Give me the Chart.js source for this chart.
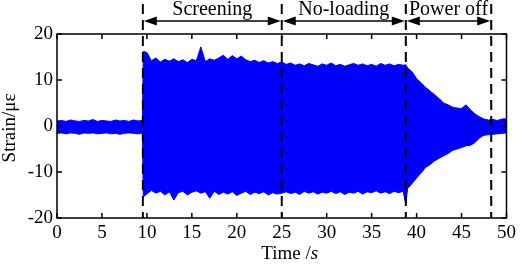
<!DOCTYPE html>
<html>
<head>
<meta charset="utf-8">
<script src="https://cdn.jsdelivr.net/npm/chart.js@4"></script>
<style>
html, body { margin: 0; padding: 0; background: #fff; }
#wrap { width: 520px; height: 264px; position: relative; }
</style>
</head>
<body>
<div id="wrap"><canvas id="myChart" width="520" height="264"></canvas></div>
<script>
// envelope of the strain signal
const time = [
  0, 0.5, 1, 1.5, 2, 2.5, 3, 3.5, 4, 4.5, 5, 5.5, 6, 6.5, 7, 7.5, 8, 8.5, 9, 9.5,
  9.6, 10, 10.5, 11, 11.5, 12, 12.5, 13, 13.5, 14, 14.5, 15, 15.5, 16, 16.5, 17, 17.5, 18, 18.5, 19, 19.5,
  20, 20.5, 21, 21.5, 22, 22.5, 23, 23.5, 24, 24.5, 25, 25.5, 26, 26.5, 27, 27.5, 28, 28.5, 29, 29.5,
  30, 30.5, 31, 31.5, 32, 32.5, 33, 33.5, 34, 34.5, 35, 35.5, 36, 36.5, 37, 37.5, 38, 38.5, 38.8,
  39, 39.5, 40, 40.5, 41, 41.5, 42, 42.5, 43, 43.5, 44, 44.5, 45, 45.5, 46, 46.5, 47, 47.5,
  48, 48.5, 49, 49.5, 50
];
const upper = [
  1.1, 1.2, 1.0, 1.3, 1.1, 1.0, 1.2, 1.1, 1.4, 1.0, 1.2, 1.1, 1.0, 1.3, 1.1, 1.2, 1.0, 1.3, 1.1, 1.2,
  16.2, 16.0, 14.2, 14.8, 13.9, 14.5, 14.1, 14.6, 14.0, 14.4, 13.8, 14.5, 14.2, 17.2, 14.0, 14.6, 14.3, 14.8, 15.4, 14.5, 15.3,
  14.6, 15.2, 14.4, 14.0, 14.3, 13.8, 14.2, 13.7, 14.0, 13.6, 13.9, 13.4, 13.7, 13.2, 13.5, 13.1, 13.6, 13.3, 13.0, 13.5,
  13.2, 13.7, 13.1, 13.4, 13.0, 13.3, 13.6, 13.2, 13.5, 13.1, 13.4, 13.0, 13.6, 13.2, 13.5, 13.1, 13.4, 13.2, 13.3,
  12.6, 11.8, 10.3, 9.4, 8.4, 7.6, 6.8, 6.0, 5.0, 4.6, 4.1, 3.9, 3.8, 4.6, 3.5, 2.6, 2.0, 1.5,
  1.3, 1.4, 1.2, 1.5, 1.6
];
const lower = [
  -1.6, -1.5, -1.7, -1.5, -1.6, -1.8, -1.5, -1.6, -1.5, -1.7, -1.6, -1.5, -1.7, -1.6, -1.8, -1.6, -1.5, -1.6, -1.7, -1.6,
  -15.4, -14.8, -14.0, -14.6, -14.2, -15.0, -14.3, -16.1, -14.5, -14.2, -15.0, -14.4, -14.1, -14.6, -14.3, -15.7, -14.2, -14.9, -14.4, -14.8, -14.3,
  -15.1, -14.6, -14.2, -14.9, -14.4, -14.7, -14.3, -15.0, -14.5, -14.8, -14.6, -14.3, -14.7, -14.4, -14.9, -14.2, -14.6, -14.3, -14.8, -14.4,
  -14.6, -14.2, -14.7, -14.3, -14.9, -14.4, -14.6, -14.2, -14.8, -14.3, -14.5, -14.1, -14.6, -14.3, -14.7, -14.2, -14.5, -14.2, -17.0,
  -13.6, -12.5, -11.3, -10.2, -9.0, -8.4, -7.6, -7.0, -6.5, -6.0, -5.3, -5.0, -4.7, -4.3, -4.2, -3.6, -2.6, -2.0,
  -1.9, -1.8, -1.7, -1.6, -1.5
];

// phase boundaries (s) and labels
const phaseEdges = [9.55, 25, 38.8, 48.3];
const phaseLabels = ["Screening", "No-loading", "Power off"];

const xTicks = [0, 5, 10, 15, 20, 25, 30, 35, 40, 45, 50];
const yTicks = [-20, -10, 0, 10, 20];

const serif = "'Liberation Serif', 'DejaVu Serif', serif";

const frame = {
  id: "frame",
  afterDraw(chart) {
    const c = chart.ctx;
    const a = chart.chartArea;
    const sx = chart.scales.x, sy = chart.scales.y;
    c.save();
    c.strokeStyle = "#000";
    c.lineWidth = 1.5;
    c.strokeRect(a.left, a.top, a.right - a.left, a.bottom - a.top);
    // inward ticks on all four sides
    c.beginPath();
    xTicks.forEach(v => {
      const px = sx.getPixelForValue(v);
      c.moveTo(px, a.bottom); c.lineTo(px, a.bottom - 5);
      c.moveTo(px, a.top); c.lineTo(px, a.top + 5);
    });
    yTicks.forEach(v => {
      const py = sy.getPixelForValue(v);
      c.moveTo(a.left, py); c.lineTo(a.left + 5, py);
      c.moveTo(a.right, py); c.lineTo(a.right - 5, py);
    });
    c.stroke();

    // dashed phase lines
    c.lineWidth = 2;
    c.setLineDash([10, 6]);
    c.beginPath();
    phaseEdges.forEach(v => {
      const px = sx.getPixelForValue(v);
      c.moveTo(px, 4); c.lineTo(px, a.bottom);
    });
    c.stroke();
    c.setLineDash([]);

    // double arrows + labels
    const ay = 21;
    c.lineWidth = 1.5;
    c.fillStyle = "#000";
    c.font = "20px " + serif;
    c.textAlign = "center";
    c.textBaseline = "alphabetic";
    for (let i = 0; i < phaseLabels.length; i++) {
      const x1 = sx.getPixelForValue(phaseEdges[i]) + 1;
      const x2 = sx.getPixelForValue(phaseEdges[i + 1]) - 1;
      c.beginPath();
      c.moveTo(x1 + 10, ay); c.lineTo(x2 - 10, ay);
      c.stroke();
      c.beginPath();
      c.moveTo(x1, ay); c.lineTo(x1 + 13, ay - 4.5); c.lineTo(x1 + 13, ay + 4.5); c.closePath();
      c.moveTo(x2, ay); c.lineTo(x2 - 13, ay - 4.5); c.lineTo(x2 - 13, ay + 4.5); c.closePath();
      c.fill();
      c.fillText(phaseLabels[i], (x1 + x2) / 2, 15);
    }

    // axis titles
    c.textAlign = "left";
    const t1 = "Time /";
    c.font = "19px " + serif;
    const w1 = c.measureText(t1).width;
    c.font = "italic 19px " + serif;
    const w2 = c.measureText("s").width;
    const tx = (a.left + a.right) / 2 + 8 - (w1 + w2) / 2;
    c.font = "19px " + serif;
    c.fillText(t1, tx, 259);
    c.font = "italic 19px " + serif;
    c.fillText("s", tx + w1, 259);

    c.translate(15, (a.top + a.bottom) / 2 + 2);
    c.rotate(-Math.PI / 2);
    c.textAlign = "center";
    c.font = "19px " + serif;
    c.fillText("Strain/\u03bc\u03b5", 0, 0);
    c.restore();
  }
};

const ctx = document.getElementById("myChart");

let chart = new Chart(ctx, {
  type: "line",
  data: {
    datasets: [
      {
        label: "upper",
        data: time.map((t, i) => ({ x: t, y: upper[i] })),
        borderColor: "#0000ff",
        backgroundColor: "#0000ff",
        borderWidth: 1,
        pointRadius: 0,
        tension: 0,
        fill: "+1"
      },
      {
        label: "lower",
        data: time.map((t, i) => ({ x: t, y: lower[i] })),
        borderColor: "#0000ff",
        backgroundColor: "#0000ff",
        borderWidth: 1,
        pointRadius: 0,
        tension: 0,
        fill: false
      }
    ]
  },
  options: {
    animation: false,
    responsive: false,
    layout: { padding: { top: 34, right: 13, left: 0, bottom: 0 } },
    plugins: { legend: { display: false }, tooltip: { enabled: false } },
    scales: {
      x: {
        type: "linear",
        min: 0,
        max: 50,
        afterBuildTicks: s => { s.ticks = xTicks.map(v => ({ value: v })); },
        afterFit: s => { s.height = 46; },
        grid: { display: false, drawTicks: false },
        border: { display: false },
        ticks: { color: "#000", padding: 4, maxRotation: 0, font: { family: serif, size: 19 } }
      },
      y: {
        min: -20,
        max: 20,
        afterBuildTicks: s => { s.ticks = yTicks.map(v => ({ value: v })); },
        afterFit: s => { s.width = 57; },
        grid: { display: false, drawTicks: false },
        border: { display: false },
        ticks: { color: "#000", padding: 4, font: { family: serif, size: 19 } }
      }
    }
  },
  plugins: [frame]
});
</script>
</body>
</html>
